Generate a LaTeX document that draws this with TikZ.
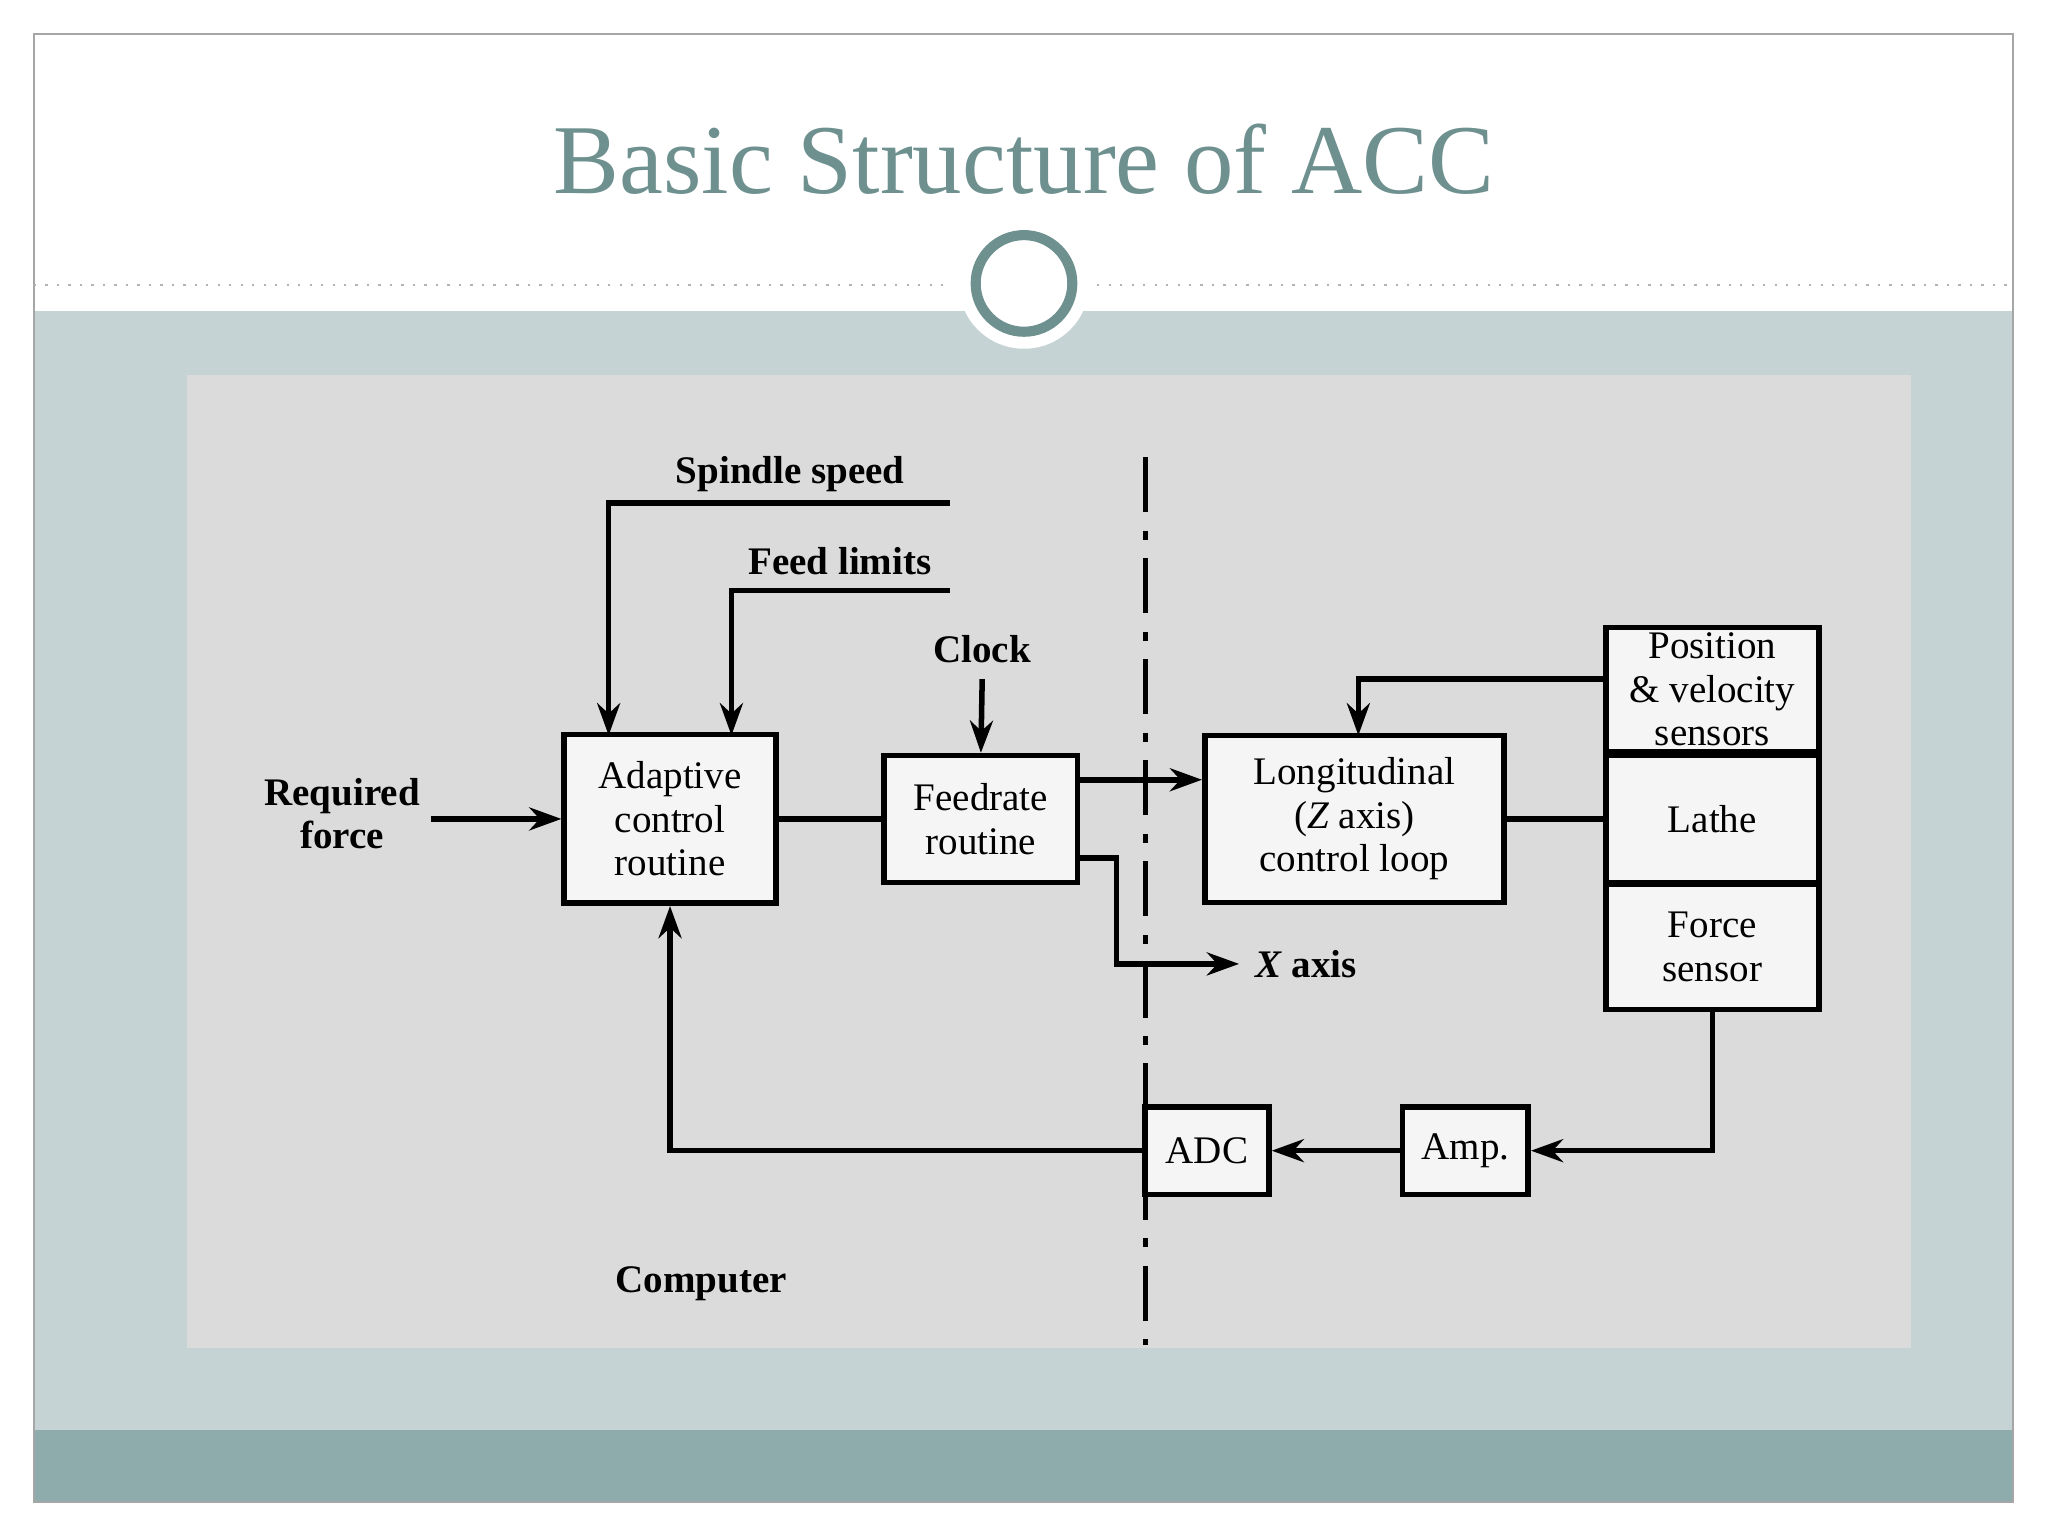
\documentclass[tikz,border=0pt]{standalone}
\usepackage{fontspec}
\setmainfont{Liberation Serif}
\usetikzlibrary{arrows.meta}
\definecolor{teal1}{HTML}{6E9190}
\definecolor{band}{HTML}{C5D3D5}
\definecolor{band2}{HTML}{8FACAD}
\begin{document}
\begin{tikzpicture}[x=0.01cm,y=-0.01cm,
  box/.style={draw,line width=1.2pt,fill=white!92!gray,align=center,inner sep=0pt,font=\fontsize{8.5pt}{9.5pt}\selectfont},
  lbl/.style={font=\fontsize{8.5pt}{9.5pt}\selectfont\bfseries,align=center},
  ln/.style={line width=1.2pt},
  ar/.style={ln,-{Stealth[length=7pt,width=5pt]}}]
\useasboundingbox (0,0) rectangle (1568,1176);
\fill[white] (0,0) rectangle (1568,1176);
\fill[band] (26,238) rectangle (1541,1095);
\fill[band2] (26,1095) rectangle (1541,1150);
\draw[gray!70,line width=0.5pt] (26,26) rectangle (1541,1150);
\draw[gray!60,dotted,line width=0.5pt] (26,218) -- (728,218) (840,218) -- (1541,218);
\fill[white] (784,217) circle (50);
\draw[teal1,line width=2.2pt] (784,217) circle (37);
\node[teal1,font=\fontsize{21.5pt}{24pt}\selectfont] (title) at (784,122) {Basic Structure of ACC};
\fill[gray!28] (143,287) rectangle (1463,1032);
\draw[ln,dash pattern=on 12pt off 4pt on 2pt off 4pt] (877,350) -- (877,1030);
\node[box,minimum width=1.62cm,minimum height=1.29cm] (ad) at (513,627) {Adaptive\\control\\routine};
\node[box,minimum width=1.48cm,minimum height=0.97cm] (fr) at (751,627) {Feedrate\\routine};
\node[box,minimum width=2.29cm,minimum height=1.28cm] (lo) at (1037,627) {Longitudinal\\(\textit{Z} axis)\\control loop};
\node[box,minimum width=1.63cm,minimum height=0.95cm] (po) at (1311,528) {Position\\\& velocity\\sensors};
\node[box,minimum width=1.63cm,minimum height=0.97cm] (la) at (1311,627) {Lathe};
\node[box,minimum width=1.63cm,minimum height=0.96cm] (fo) at (1311,725) {Force\\sensor};
\node[box,minimum width=0.95cm,minimum height=0.67cm] (adc) at (924,881) {ADC};
\node[box,minimum width=0.96cm,minimum height=0.67cm] (amp) at (1122,881) {Amp.};
\node[lbl] (ss) at (605,363) {Spindle speed};
\node[lbl] (fl) at (643,430) {Feed limits};
\node[lbl] (ck) at (752,497) {Clock};
\node[lbl] (rf) at (262,623) {Required\\force};
\node[lbl] (xa) at (1000,738) {\textit{X} axis};
\node[lbl] (cp) at (537,983) {Computer};
\coordinate (s0) at (727,385); \coordinate (f0) at (727,452);
\coordinate (r0) at (330,627);
\draw[ar] (s0) -- (466,385) -- (466,563);
\draw[ar] (f0) -- (560,452) -- (560,563);
\draw[ar] (ck.south) -- (fr.north);
\draw[ar] (r0) -- (ad.west);
\draw[ln] (ad.east) -- (fr.west);
\draw[ar] (825,597) -- (lo.west|-0,597);
\draw[ar] (825,657) -- (855,657) -- (855,738) -- (xa.west);
\draw[ln] (lo.east) -- (la.west);
\draw[ar] (po.west|-0,520) -- (1040,520) -- (1040,563);
\draw[ar] (fo.south) -- (1311,881) -- (amp.east);
\draw[ar] (amp.west) -- (adc.east);
\draw[ar] (adc.west) -- (513,881) -- (ad.south);
\end{tikzpicture}
\end{document}
